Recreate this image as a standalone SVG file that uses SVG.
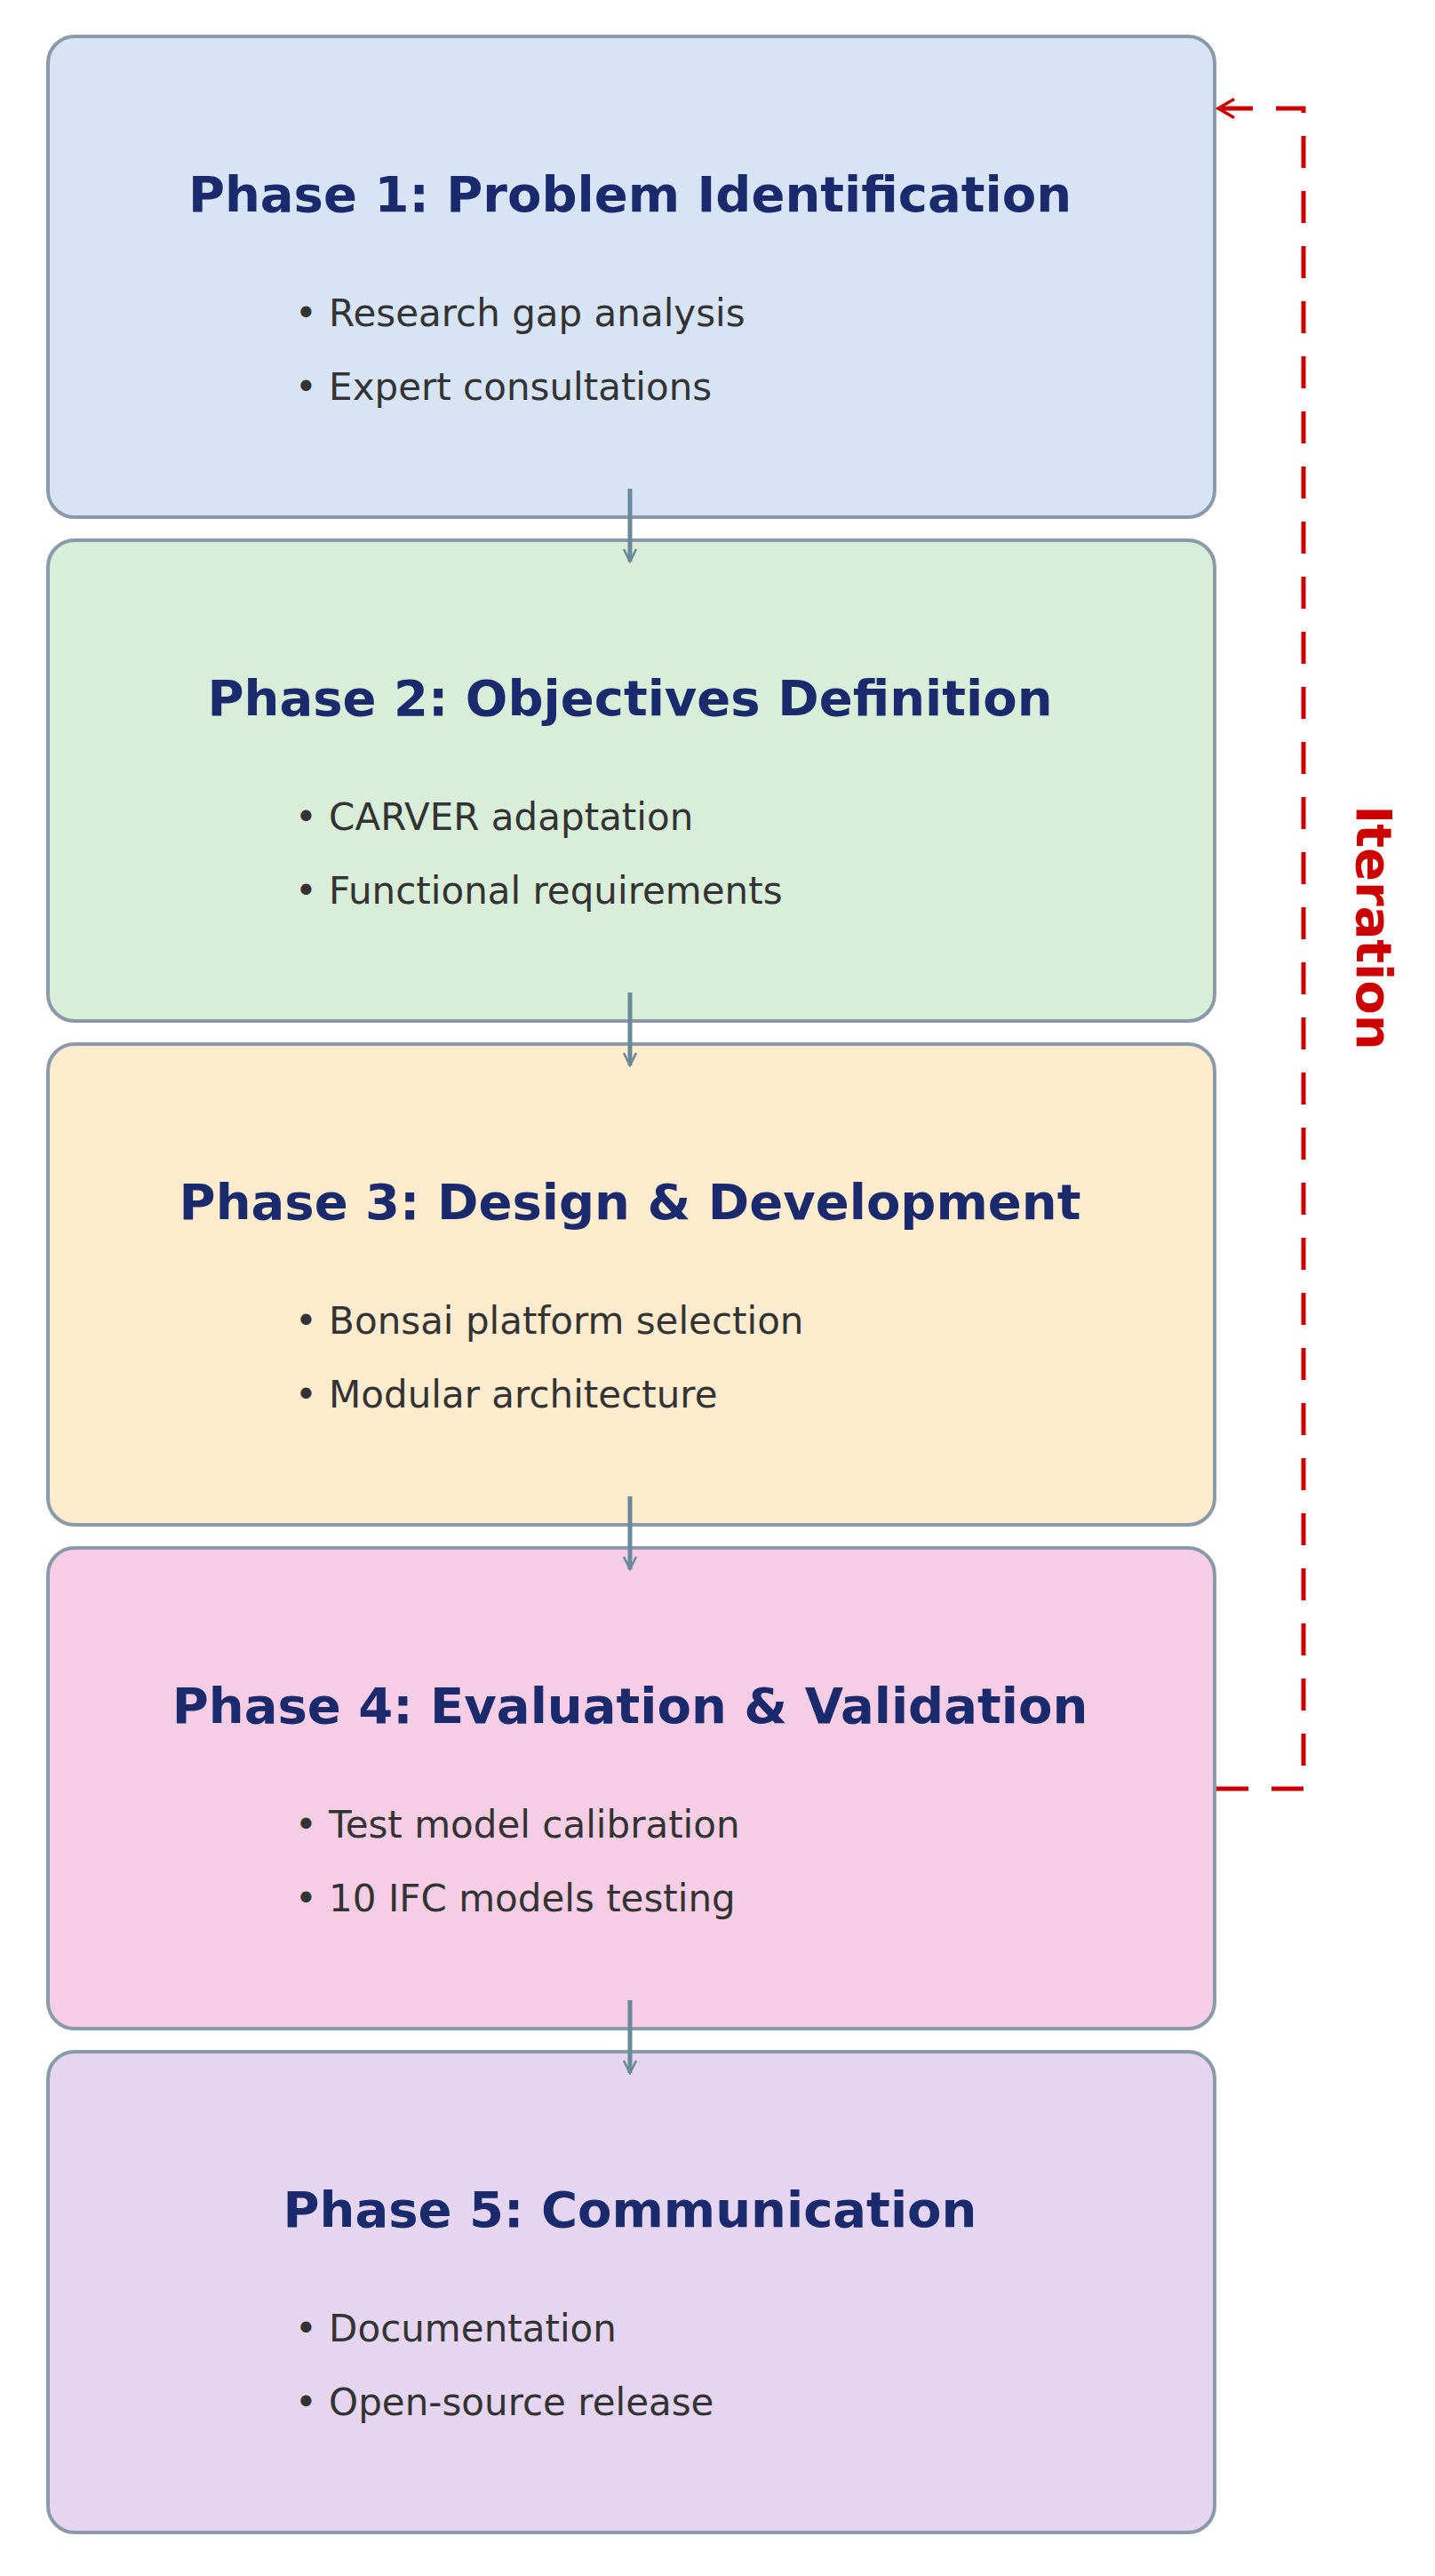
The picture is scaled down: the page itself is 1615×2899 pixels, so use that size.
<svg xmlns="http://www.w3.org/2000/svg" width="1615" height="2899" viewBox="0 0 1615 2899">
<style>
.box{stroke:#8a9aa8;stroke-width:4}
.t{font-family:"DejaVu Sans",sans-serif;font-weight:bold;font-size:56px;fill:#1a2a6c;text-anchor:middle}
.b{font-family:"DejaVu Sans",sans-serif;font-size:42px;fill:#333}
.a{stroke:#6a8a9a;stroke-width:5;fill:none}
</style>
<defs>
<marker id="ah" viewBox="0 0 10 10" refX="9" refY="5" markerWidth="5" markerHeight="5" orient="auto" markerUnits="userSpaceOnUse">
<path d="M1,1 L9,5 L1,9" fill="none" stroke="context-stroke" stroke-width="2"/>
</marker>
<marker id="gh" viewBox="0 0 10 10" refX="9" refY="5" markerWidth="20" markerHeight="20" orient="auto" markerUnits="userSpaceOnUse">
<path d="M2,1.5 L9,5 L2,8.5" fill="none" stroke="#6a8a9a" stroke-width="1.3"/>
</marker>
<marker id="rh" viewBox="0 0 10 10" refX="9" refY="5" markerWidth="30" markerHeight="30" orient="auto" markerUnits="userSpaceOnUse">
<path d="M3,1.5 L9,5 L3,8.5" fill="none" stroke="#cc0000" stroke-width="1.2"/>
</marker>
</defs>
<g id="phase1"><rect class="box" x="54" y="41" width="1313" height="541" rx="30" fill="#d6e4f5"/>
<text class="t" x="709" y="238">Phase 1: Problem Identification</text>
<text class="b" x="332" y="367">• Research gap analysis</text><text class="b" x="332" y="450">• Expert consultations</text></g>
<g id="phase2"><rect class="box" x="54" y="608" width="1313" height="541" rx="30" fill="#d9eed8"/>
<text class="t" x="709" y="805">Phase 2: Objectives Definition</text>
<text class="b" x="332" y="934">• CARVER adaptation</text><text class="b" x="332" y="1017">• Functional requirements</text></g>
<g id="phase3"><rect class="box" x="54" y="1175" width="1313" height="541" rx="30" fill="#ffeccf"/>
<text class="t" x="709" y="1372">Phase 3: Design &amp; Development</text>
<text class="b" x="332" y="1501">• Bonsai platform selection</text><text class="b" x="332" y="1584">• Modular architecture</text></g>
<g id="phase4"><rect class="box" x="54" y="1742" width="1313" height="541" rx="30" fill="#f5cee5"/>
<text class="t" x="709" y="1939">Phase 4: Evaluation &amp; Validation</text>
<text class="b" x="332" y="2068">• Test model calibration</text><text class="b" x="332" y="2151">• 10 IFC models testing</text></g>
<g id="phase5"><rect class="box" x="54" y="2309" width="1313" height="541" rx="30" fill="#e5d5f0"/>
<text class="t" x="709" y="2506">Phase 5: Communication</text>
<text class="b" x="332" y="2635">• Documentation</text><text class="b" x="332" y="2718">• Open-source release</text></g>
<g id="connectors">
<line class="a" x1="709" y1="550" x2="709" y2="632" marker-end="url(#gh)"/>
<line class="a" x1="709" y1="1117" x2="709" y2="1199" marker-end="url(#gh)"/>
<line class="a" x1="709" y1="1684" x2="709" y2="1766" marker-end="url(#gh)"/>
<line class="a" x1="709" y1="2251" x2="709" y2="2333" marker-end="url(#gh)"/>
<path d="M1369,2013 H1467 V122 H1371" fill="none" stroke="#cc0000" stroke-width="5" stroke-dasharray="36,26" marker-end="url(#rh)"/>
<text x="1542" y="1044" transform="rotate(90 1542 1044)" font-family="DejaVu Sans,sans-serif" font-weight="bold" font-size="56" fill="#cc0000" text-anchor="middle" dominant-baseline="middle">Iteration</text>
</g>
</svg>
